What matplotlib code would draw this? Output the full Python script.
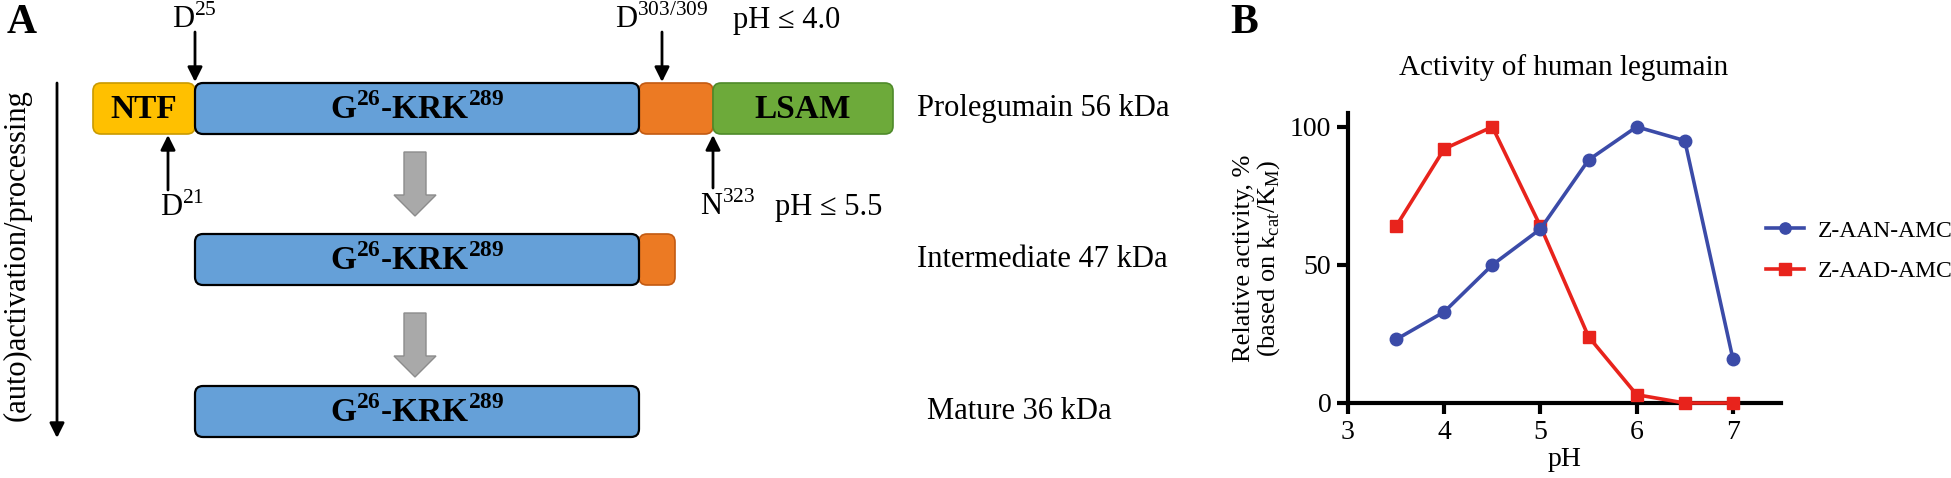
import matplotlib
matplotlib.use('Agg')
import matplotlib.pyplot as plt
import matplotlib.patches as mpatches

# --- data for panel B (activity vs pH) ---
ph = [3.5, 4.0, 4.5, 5.0, 5.5, 6.0, 6.5, 7.0]
aan_amc = [23, 33, 50, 63, 88, 100, 95, 16]
aad_amc = [64, 92, 100, 64, 24, 3, 0, 0]
series_names = ['Z-AAN-AMC', 'Z-AAD-AMC']
x_ticks = [3, 4, 5, 6, 7]
y_ticks = [0, 50, 100]

# --- panel A schematic: forms and their domains ---
forms = ['Prolegumain 56 kDa', 'Intermediate 47 kDa', 'Mature 36 kDa']
core_label = 'G$^{\\mathdefault{26}}$-KRK$^{\\mathdefault{289}}$'

plt.rcParams['font.family'] = ['Liberation Serif', 'DejaVu Serif']
plt.rcParams['mathtext.fontset'] = 'custom'
plt.rcParams['mathtext.rm'] = 'Liberation Serif'

W, H = 1951, 478
fig = plt.figure(figsize=(W / 100, H / 100), dpi=100)

# pixel-space axes for the schematic
axA = fig.add_axes([0, 0, 1, 1])
axA.set_xlim(0, W)
axA.set_ylim(H, 0)
axA.axis('off')

yellow, blue, orange, green = '#FFC000', '#65A0D8', '#EC7A23', '#6DAA3A'
row_top = [83, 234, 386]
row_h = 51


def box(x0, x1, y0, fc, ec, lw=1.2):
    p = mpatches.FancyBboxPatch((x0, y0), x1 - x0, row_h,
                                boxstyle='round,pad=0,rounding_size=8',
                                fc=fc, ec=ec, lw=lw)
    axA.add_patch(p)


# row 1: prolegumain
box(93, 195, row_top[0], yellow, '#C99A00')
box(639, 713, row_top[0], orange, '#C25A12')
box(713, 893, row_top[0], green, '#4E8A2A')
# row 2: intermediate
box(639, 675, row_top[1], orange, '#C25A12')
for y0 in row_top:
    box(195, 639, y0, blue, 'black', lw=1.6)
    axA.text(417, y0 + row_h / 2 + 1, core_label, ha='center', va='center',
             fontsize=24, fontweight='bold')

axA.text(144, row_top[0] + row_h / 2 + 1, 'NTF', ha='center', va='center',
         fontsize=24, fontweight='bold')
axA.text(803, row_top[0] + row_h / 2 + 1, 'LSAM', ha='center', va='center',
         fontsize=24, fontweight='bold')

for name, y0, xl in zip(forms, row_top, [917, 917, 927]):
    axA.text(xl, y0 + row_h / 2, name, ha='left', va='center', fontsize=22)

# cleavage-site arrows
arr = dict(arrowstyle='-|>', lw=2, color='black', mutation_scale=22,
           shrinkA=0, shrinkB=0)
axA.annotate('', xy=(195, 82), xytext=(195, 32), arrowprops=arr)
axA.annotate('', xy=(662, 82), xytext=(662, 32), arrowprops=arr)
axA.annotate('', xy=(168, 135), xytext=(168, 190), arrowprops=arr)
axA.annotate('', xy=(713, 135), xytext=(713, 188), arrowprops=arr)
axA.annotate('', xy=(57, 438), xytext=(57, 83), arrowprops=arr)

axA.text(194, 28, 'D$^{\\mathdefault{25}}$', ha='center', va='baseline', fontsize=22)
axA.text(662, 28, 'D$^{\\mathdefault{303/309}}$', ha='center', va='baseline', fontsize=22)
axA.text(733, 28, 'pH \u2264 4.0', ha='left', va='baseline', fontsize=22)
axA.text(182, 216, 'D$^{\\mathdefault{21}}$', ha='center', va='baseline', fontsize=22)
axA.text(728, 215, 'N$^{\\mathdefault{323}}$', ha='center', va='baseline', fontsize=22)
axA.text(775, 215, 'pH \u2264 5.5', ha='left', va='baseline', fontsize=22)

axA.text(17, 255, '(auto)activation/processing', rotation=90, ha='center',
         va='center', fontsize=22)

# grey processing arrows
for ytop in [152, 313]:
    axA.add_patch(mpatches.FancyArrow(415, ytop, 0, 64, width=22, head_width=42,
                                      head_length=21, length_includes_head=True,
                                      fc='#A9A9A9', ec='#8C8C8C', lw=1))

axA.text(7, 33, 'A', fontsize=30, fontweight='bold', va='baseline')
axA.text(1230, 33, 'B', fontsize=30, fontweight='bold', va='baseline')

# --- panel B ---
axB = fig.add_axes([1348 / W, (H - 403) / H, (1781 - 1348) / W, (403 - 113) / H])
axB.plot(ph, aad_amc, color='#E8231C', lw=2.6, marker='s', ms=9,
         label=series_names[1], clip_on=False, zorder=3)
axB.plot(ph, aan_amc, color='#3B4BA8', lw=2.6, marker='o', ms=9,
         label=series_names[0], clip_on=False, zorder=4)
axB.set_xlim(3, 7.5)
axB.set_ylim(0, 105)
axB.set_xticks(x_ticks)
axB.set_yticks(y_ticks)
for s in ['top', 'right']:
    axB.spines[s].set_visible(False)
for s in ['left', 'bottom']:
    axB.spines[s].set_linewidth(3)
axB.tick_params(width=3, length=8, labelsize=20, pad=4)
axB.set_xlabel('pH', fontsize=20, labelpad=2)
axB.set_ylabel('Relative activity, %\n(based on k$_{\\mathdefault{cat}}$/K$_{\\mathdefault{M}}$)',
               fontsize=19, labelpad=6, linespacing=1.0)
fig.text(1564 / W, 1 - 68 / H, 'Activity of human legumain', ha='center',
         va='center', fontsize=21)

h, l = axB.get_legend_handles_labels()
axB.legend(h[::-1], l[::-1], loc='upper left', frameon=False,
           bbox_to_anchor=(1766 / W, 1 - 220 / H), bbox_transform=fig.transFigure,
           fontsize=17, handlelength=1.6, handletextpad=0.6, labelspacing=0.8,
           borderpad=0, borderaxespad=0, markerscale=0.9)

fig.savefig('out.png', dpi=100)
